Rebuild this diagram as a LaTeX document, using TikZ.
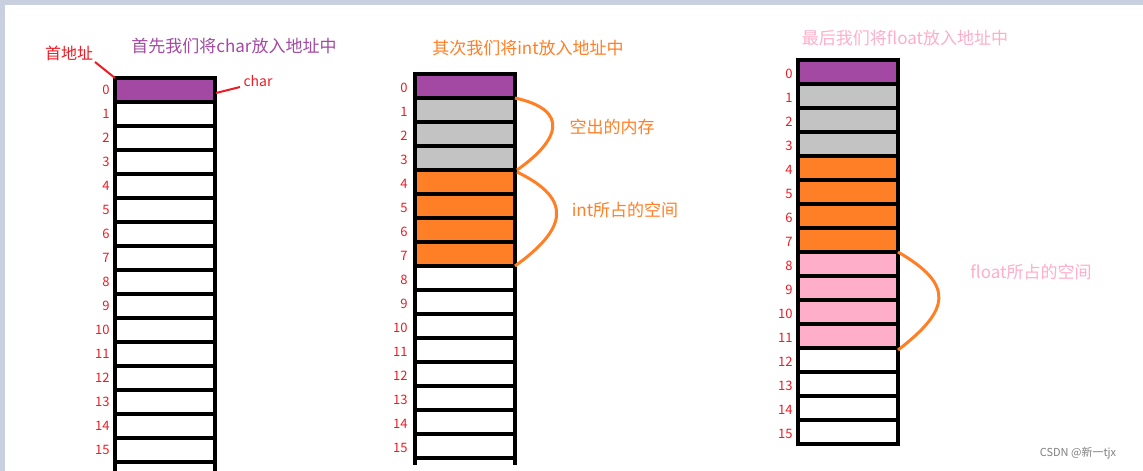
\documentclass[tikz,border=0pt]{standalone}
\usepackage{fontspec}
\setmainfont{Noto Sans CJK SC}
\definecolor{cpur}{HTML}{A349A4}
\definecolor{cgry}{HTML}{C3C3C3}
\definecolor{corg}{HTML}{FF7F27}
\definecolor{cpnk}{HTML}{FFAEC9}
\definecolor{cred}{HTML}{ED1C24}
\definecolor{cbg}{HTML}{C8D0E0}
\tikzset{cell/.style={draw=black,line width=3.5pt},
 idx/.style={text=cred,font=\fontsize{13}{13}\selectfont,anchor=east},
 ttl/.style={font=\fontsize{17}{17}\selectfont},
 lbl/.style={font=\fontsize{17}{17}\selectfont,text=corg},
 brace/.style={draw=corg,line width=3pt}}
\begin{document}
\begin{tikzpicture}[x=1pt,y=-1pt]
\useasboundingbox (0,0) rectangle (1143,471);
\fill[white] (0,0) rectangle (1143,471);
\fill[cbg] (0,0) rectangle (1143,5);
\fill[cbg] (0,0) rectangle (5,471);
% column 1
\foreach \i in {0,...,15}{
  \pgfmathsetmacro{\c}{\i==0?1:0}
  \ifnum\i=0 \def\fc{cpur}\else\def\fc{white}\fi
  \draw[cell,fill=\fc] (115,78+24*\i) rectangle (215,102+24*\i);
  \node[idx] (a\i) at (113,90+24*\i) {\i};
}
\draw[cell] (115,462) -- (115,471) (215,462) -- (215,471);
% column 2
\foreach \i in {0,...,15}{
  \ifnum\i=0 \def\fc{cpur}\else\ifnum\i<4 \def\fc{cgry}\else\ifnum\i<8 \def\fc{corg}\else\def\fc{white}\fi\fi\fi
  \draw[cell,fill=\fc] (415,74+24*\i) rectangle (515,98+24*\i);
  \node[idx] (b\i) at (411,88+24*\i) {\i};
}
\draw[cell] (415,458) -- (415,465) (515,458) -- (515,465);
% column 3
\foreach \i in {0,...,15}{
  \ifnum\i=0 \def\fc{cpur}\else\ifnum\i<4 \def\fc{cgry}\else\ifnum\i<8 \def\fc{corg}\else\ifnum\i<12 \def\fc{cpnk}\else\def\fc{white}\fi\fi\fi\fi
  \draw[cell,fill=\fc] (798,60+24*\i) rectangle (898,84+24*\i);
  \node[idx] (c\i) at (796,74+24*\i) {\i};
}
% titles
\node[ttl,text=cpur] (t1) at (234,46) {首先我们将char放入地址中};
\node[ttl,text=corg] (t2) at (528,48) {其次我们将int放入地址中};
\node[ttl,text=cpnk] (t3) at (905,38) {最后我们将float放入地址中};
% annotations
\node[text=cred,font=\fontsize{16}{16}\selectfont] (first) at (69,53) {首地址};
\node[text=cred,font=\fontsize{14}{14}\selectfont] (ch) at (258,81) {char};
\coordinate (p0) at (115,78);
\coordinate (p1) at (216,93);
\draw[cred,line width=2pt] (95,62) -- (p0);
\draw[cred,line width=2pt] (p1) -- (240,87);
% braces
\draw[brace] (515,98) .. controls (570,110) and (560,140) .. (517,170);
\draw[brace] (517,172) .. controls (575,200) and (565,230) .. (515,266);
\draw[brace] (898,252) .. controls (955,285) and (950,310) .. (898,350);
\node[lbl] (l1) at (612,127) {空出的内存};
\node[lbl] (l2) at (625,210) {int所占的空间};
\node[lbl,text=cpnk] (l3) at (1031,272) {float所占的空间};
\node[text=gray,font=\fontsize{11}{11}\selectfont] (cs) at (1078,453) {CSDN @新一tjx};
\end{tikzpicture}
\end{document}
